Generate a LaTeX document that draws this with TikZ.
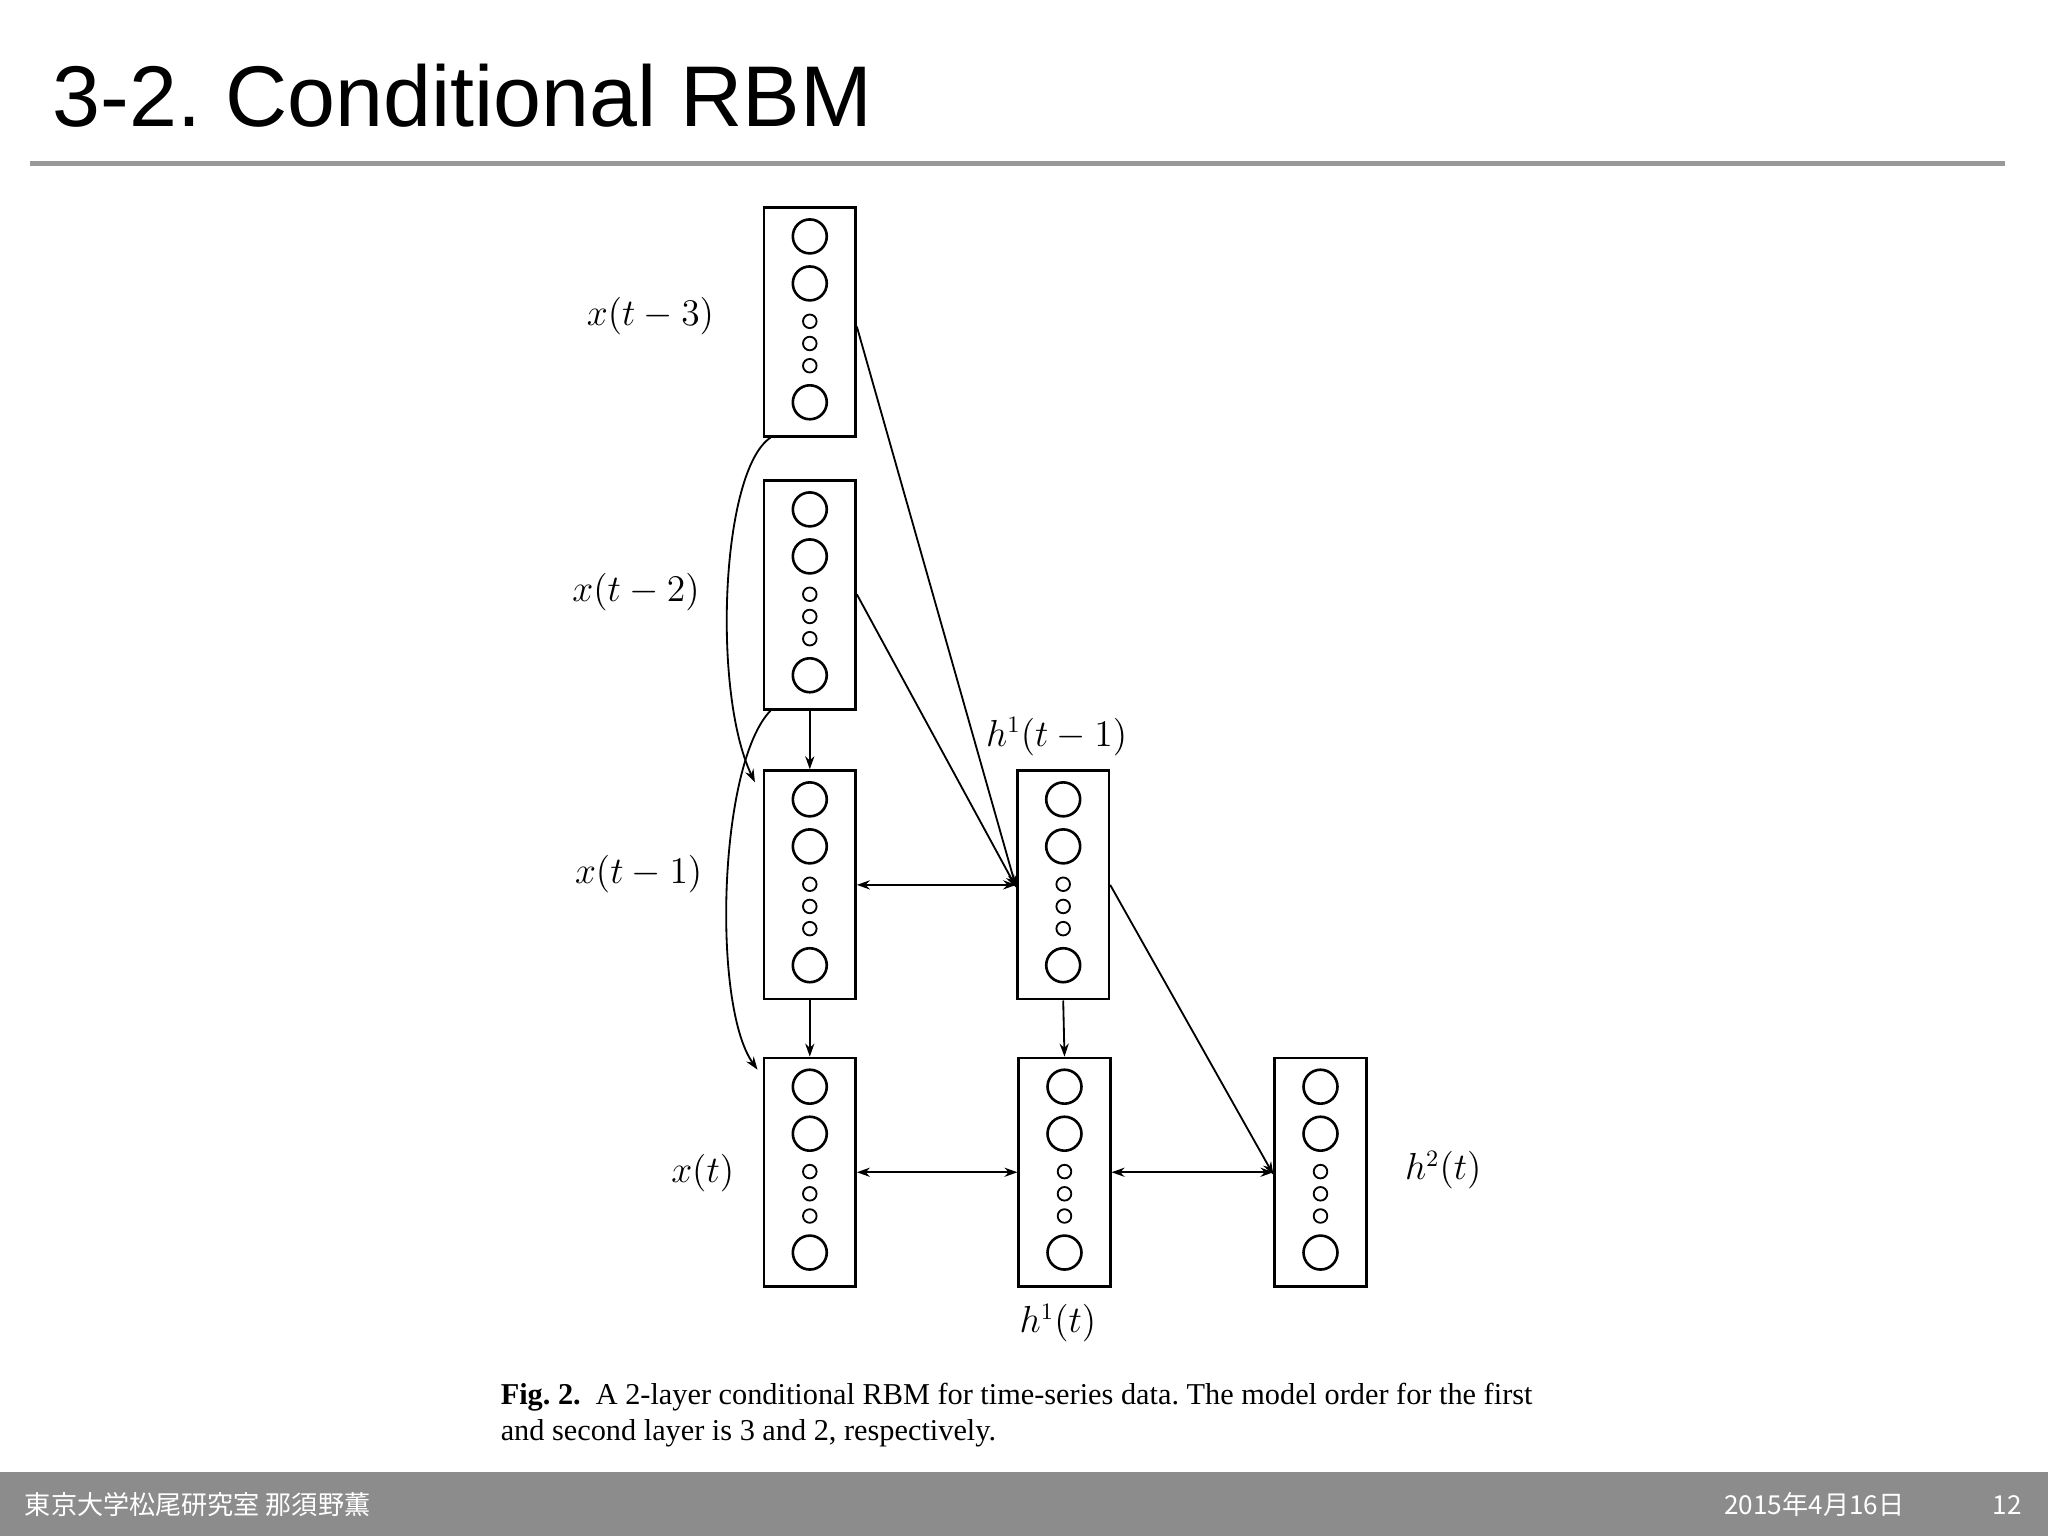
\documentclass[tikz,border=0pt]{standalone}
\usepackage{fontspec}
\setmainfont{Liberation Serif}
\newfontfamily\ttl{Liberation Sans}
\newfontfamily\cjk{Noto Sans CJK JP}
\usetikzlibrary{arrows.meta}
\frenchspacing
\begin{document}
\begin{tikzpicture}[x=0.5pt,y=-0.5pt,
  layer/.style={draw,line width=1pt,minimum width=35pt,minimum height=87.5pt,inner sep=0pt},
  lab/.style={font=\fontsize{13.5}{15}\selectfont},
  con/.style={line width=0.7pt,-{Stealth[length=5pt,width=3.5pt]}},
  bi/.style={line width=0.7pt,{Stealth[length=5pt,width=3.5pt]}-{Stealth[length=5pt,width=3.5pt]}}]
\useasboundingbox (0,0) rectangle (1568,1176);
\fill[white] (0,0) rectangle (1568,1176);
\node[anchor=base west,inner sep=0pt,font=\ttl\fontsize{33}{36}\selectfont] (title) at (40,97) {3-2. Conditional RBM};
\draw[line width=2pt,gray!80] (23,125) -- (1535,125);
\newcommand\units[1]{%
  \foreach \o in {23,59,150} \draw[line width=1pt] ([yshift=-\o*0.5pt]#1.north) circle (6.5pt);
  \foreach \o in {88,105,122} \draw[line width=0.7pt] ([yshift=-\o*0.5pt]#1.north) circle (2.6pt);}
\node[layer] (A) at (620,246.5) {};
\node[layer] (B) at (620,455.5) {};
\node[layer] (C) at (620,677.5) {};
\node[layer] (D) at (620,897.5) {};
\node[layer] (E) at (814,677.5) {};
\node[layer] (F) at (815,897.5) {};
\node[layer] (G) at (1011,897.5) {};
\foreach \n in {A,B,C,D,E,F,G} {\units{\n}}
\node[lab] (lA) at (498,242) {$x(t-3)$};
\node[lab] (lB) at (487,453) {$x(t-2)$};
\node[lab] (lC) at (489,669) {$x(t-1)$};
\node[lab] (lD) at (538,898) {$x(t)$};
\node[lab] (lE) at (809,564) {$h^1(t-1)$};
\node[lab] (lF) at (810,1013) {$h^1(t)$};
\node[lab] (lG) at (1105,896) {$h^2(t)$};
\draw[con] (A.east |- 0,250) -- ([yshift=-1pt]E.west);
\draw[con] (B.east |- 0,455) -- ([yshift=-1pt]E.west);
\draw[con] (B.south) -- (C.north);
\draw[con] (C.south) -- (D.north);
\draw[con] (E.south) -- (F.north);
\draw[bi] (C.east) -- (E.west);
\draw[bi] (D.east) -- (F.west);
\draw[bi] (F.east) -- (G.west);
\draw[con] (E.east) -- ([yshift=-1pt]G.west);
\draw[con] ([xshift=3pt]A.south west) .. controls (552,360) and (545,530) .. ([xshift=-3pt,yshift=-5pt]C.north west);
\draw[con] ([xshift=3pt]B.south west) .. controls (550,585) and (545,770) .. ([xshift=-2pt,yshift=-5pt]D.north west);
\node[anchor=base west,inner sep=0pt,font=\fontsize{11.6}{14}\selectfont] (cap) at (383,1075) {\textbf{Fig. 2.}\ \ A 2-layer conditional RBM for time-series data. The model order for the first};
\node[anchor=base west,inner sep=0pt,font=\fontsize{11.6}{14}\selectfont] (cap2) at (383,1103) {and second layer is 3 and 2, respectively.};
\fill[gray!90] (0,1127) rectangle (1568,1176);
\node[anchor=west,text=white,font=\cjk\fontsize{10}{12}\selectfont] (f1) at (12,1152) {東京大学松尾研究室 那須野薫};
\node[anchor=east,text=white,font=\cjk\fontsize{10}{12}\selectfont] (f2) at (1465,1152) {2015年4月16日};
\node[anchor=east,text=white,font=\cjk\fontsize{10}{12}\selectfont] (f3) at (1555,1152) {12};
\end{tikzpicture}
\end{document}
